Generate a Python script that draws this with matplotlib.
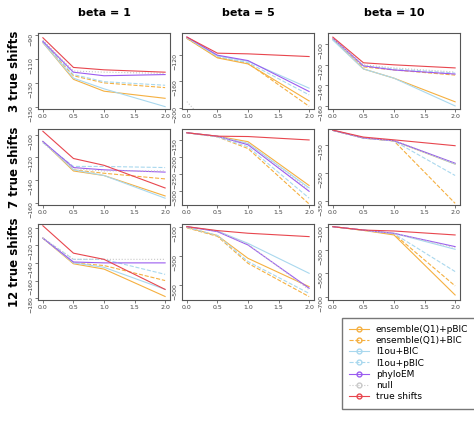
import matplotlib
matplotlib.use("Agg")
import matplotlib.pyplot as plt
from matplotlib.lines import Line2D

x = [0.0, 0.5, 1.0, 2.0]
betas = ["beta = 1", "beta = 5", "beta = 10"]
shifts = ["3 true shifts", "7 true shifts", "12 true shifts"]
methods = ["ensemble(Q1)+pBIC", "ensemble(Q1)+BIC", "l1ou+BIC", "l1ou+pBIC", "phyloEM", "null", "true shifts"]

data = [
 [
  {"ensemble(Q1)+pBIC": [-96, -127, -137, -143], "ensemble(Q1)+BIC": [-96, -124, -130, -134],
   "l1ou+BIC": [-96, -126, -135, -150], "l1ou+pBIC": [-95, -123, -129, -132],
   "phyloEM": [-95, -121, -124, -123], "null": [-94, -120, -121, -122], "true shifts": [-92, -117, -119, -121]},
  {"ensemble(Q1)+pBIC": [-96, -125, -134, -189], "ensemble(Q1)+BIC": [-96, -124, -133, -197],
   "l1ou+BIC": [-95, -122, -130, -170], "l1ou+pBIC": [-95, -123, -132, -180],
   "phyloEM": [-94, -121, -129, -175], "null": [-190, -240, -260, -280], "true shifts": [-94, -118, -119, -123]},
  {"ensemble(Q1)+pBIC": [-95, -124, -133, -156], "ensemble(Q1)+BIC": [-95, -122, -125, -130],
   "l1ou+BIC": [-96, -124, -133, -160], "l1ou+pBIC": [-95, -121, -124, -128],
   "phyloEM": [-94, -121, -125, -129], "null": [-94, -120, -123, -127], "true shifts": [-93, -118, -120, -123]},
 ],
 [
  {"ensemble(Q1)+pBIC": [-106, -132, -136, -154], "ensemble(Q1)+BIC": [-106, -131, -134, -139],
   "l1ou+BIC": [-106, -131, -136, -156], "l1ou+pBIC": [-107, -128, -128, -129],
   "phyloEM": [-106, -129, -131, -133], "null": [-107, -130, -132, -132], "true shifts": [-97, -121, -127, -147]},
  {"ensemble(Q1)+pBIC": [-129, -139, -155, -283], "ensemble(Q1)+BIC": [-129, -141, -175, -337],
   "l1ou+BIC": [-129, -140, -160, -290], "l1ou+pBIC": [-129, -141, -170, -320],
   "phyloEM": [-129, -139, -164, -300], "null": [-129, -140, -160, -295], "true shifts": [-129, -139, -140, -150]},
  {"ensemble(Q1)+pBIC": [-97, -124, -135, -218], "ensemble(Q1)+BIC": [-97, -125, -135, -359],
   "l1ou+BIC": [-97, -124, -134, -218], "l1ou+pBIC": [-97, -125, -135, -259],
   "phyloEM": [-97, -124, -134, -215], "null": [-97, -124, -134, -216], "true shifts": [-96, -121, -131, -152]},
 ],
 [
  {"ensemble(Q1)+pBIC": [-112, -141, -147, -178], "ensemble(Q1)+BIC": [-112, -140, -143, -160],
   "l1ou+BIC": [-112, -140, -145, -170], "l1ou+pBIC": [-112, -136, -136, -153],
   "phyloEM": [-112, -139, -140, -140], "null": [-112, -136, -136, -136], "true shifts": [-98, -129, -136, -170]},
  {"ensemble(Q1)+pBIC": [-105, -161, -316, -509], "ensemble(Q1)+BIC": [-108, -166, -350, -577],
   "l1ou+BIC": [-100, -130, -214, -418], "l1ou+pBIC": [-105, -160, -338, -555],
   "phyloEM": [-100, -134, -225, -520], "null": [-100, -130, -220, -530], "true shifts": [-100, -127, -145, -168]},
  {"ensemble(Q1)+pBIC": [-100, -132, -171, -686], "ensemble(Q1)+BIC": [-100, -131, -163, -608],
   "l1ou+BIC": [-100, -129, -157, -294], "l1ou+pBIC": [-100, -130, -160, -485],
   "phyloEM": [-100, -129, -157, -271], "null": [-100, -129, -157, -280], "true shifts": [-100, -129, -137, -171]},
 ],
]
ylims = [[(-152, -88), (-201, -88), (-163, -89)],
         [(-162, -95), (-340, -118), (-365, -92)],
         [(-182, -96), (-600, -82), (-729, -77)]]
yticks = [[[-150, -130, -110, -90], [-200, -160, -120], [-160, -140, -120, -100]],
          [[-160, -140, -120, -100], [-300, -250, -200, -150], [-350, -250, -150]],
          [[-180, -160, -140, -120, -100], [-500, -300, -100], [-700, -500, -300, -100]]]

styles = {
 "ensemble(Q1)+pBIC": dict(color="#F5B041", ls="-"),
 "ensemble(Q1)+BIC": dict(color="#F5B041", ls="--"),
 "l1ou+BIC": dict(color="#A9D8EE", ls="-"),
 "l1ou+pBIC": dict(color="#A9D8EE", ls="--"),
 "phyloEM": dict(color="#9B5CF0", ls="-"),
 "null": dict(color="#C8C8C8", ls=":"),
 "true shifts": dict(color="#E8464E", ls="-"),
}

fig = plt.figure(figsize=(4.74, 4.28), dpi=100)
lefts = [38, 182, 328]
tops = [33, 129, 224]
W, H = 132, 76
for r in range(3):
    for c in range(3):
        ax = fig.add_axes([lefts[c] / 474, 1 - (tops[r] + H) / 428, W / 474, H / 428])
        for m in methods:
            ax.plot(x, data[r][c][m], lw=0.8, **styles[m])
        ax.set_ylim(*ylims[r][c])
        ax.set_xlim(-0.08, 2.08)
        ax.set_xticks([0, 0.5, 1.0, 1.5, 2.0])
        ax.set_xticklabels(["0.0", "0.5", "1.0", "1.5", "2.0"])
        ax.set_yticks(yticks[r][c])
        ax.tick_params(labelsize=4.5, length=2, width=0.5, pad=1.5, colors="#444444")
        ax.tick_params(axis="y", labelrotation=90)
        for s in ax.spines.values():
            s.set_color("#555555")
            s.set_linewidth(0.8)
        if r == 0:
            ax.set_title(betas[c], fontsize=8, fontweight="bold", pad=12)
        if c == 0:
            ax.set_ylabel(shifts[r], fontsize=8.5, fontweight="bold", labelpad=5)

handles = [Line2D([0], [0], marker="o", markersize=3.5, markerfacecolor="none", lw=0.8,
                  **styles[m]) for m in methods]
fig.legend(handles, methods, loc="upper left", bbox_to_anchor=(337 / 474, 1 - 313 / 428),
           fontsize=6.5, frameon=True, fancybox=False, edgecolor="#555555",
           handlelength=2.2, labelspacing=0.25, borderpad=0.8)
fig.savefig("out.png", dpi=100)
